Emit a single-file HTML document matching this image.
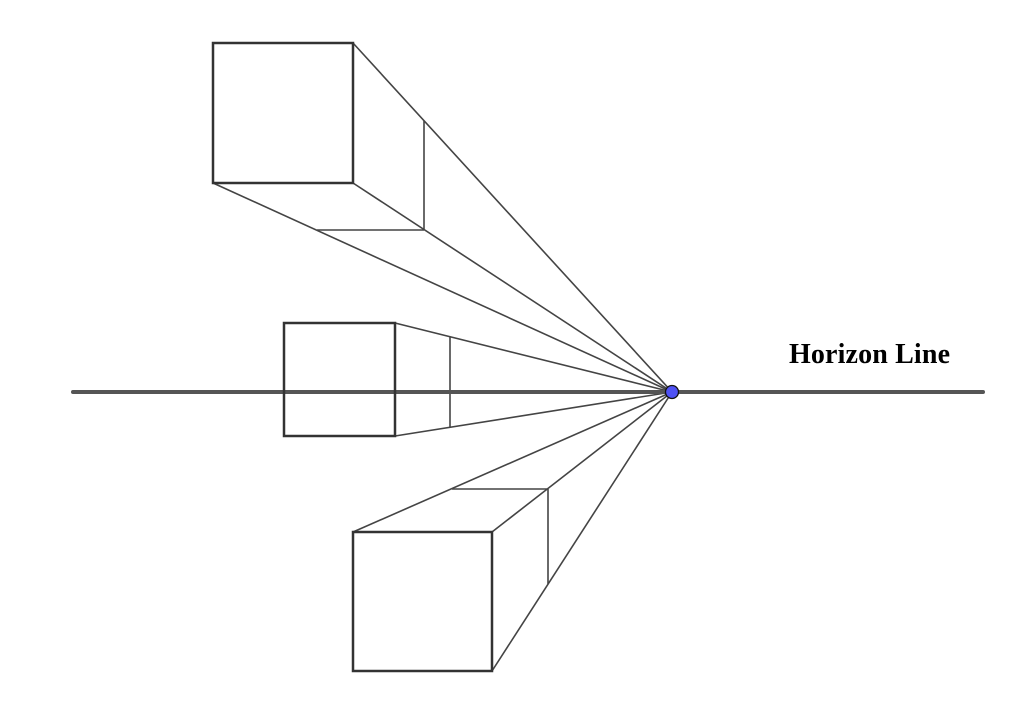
<!DOCTYPE html>
<html><head><meta charset="utf-8"><style>
html,body{margin:0;padding:0;background:#fff;}
svg{display:block;}
</style></head><body>
<svg width="1024" height="727" viewBox="0 0 1024 727" xmlns="http://www.w3.org/2000/svg">
<g stroke="#444" stroke-width="1.6" fill="none">
<line x1="353" y1="43" x2="672" y2="392"/>
<line x1="353" y1="183" x2="672" y2="392"/>
<line x1="213" y1="183" x2="672" y2="392"/>
<line x1="424" y1="121" x2="424" y2="230"/>
<line x1="317" y1="230" x2="424" y2="230"/>
<line x1="395" y1="323" x2="672" y2="392"/>
<line x1="395" y1="436" x2="672" y2="392"/>
<line x1="450" y1="337" x2="450" y2="427"/>
<line x1="353" y1="532" x2="672" y2="392"/>
<line x1="492" y1="532" x2="672" y2="392"/>
<line x1="492" y1="671" x2="672" y2="392"/>
<line x1="548" y1="489" x2="548" y2="584"/>
<line x1="452" y1="489" x2="548" y2="489"/>
</g>
<line x1="73" y1="392" x2="983" y2="392" stroke="#555" stroke-width="4" stroke-linecap="round"/>
<g stroke="#333" stroke-width="2.5" fill="none">
<rect x="213" y="43" width="140" height="140"/>
<rect x="284" y="323" width="111" height="113"/>
<rect x="353" y="532" width="139" height="139"/>
</g>
<circle cx="672" cy="392" r="6.5" fill="#4f52f5" stroke="#111" stroke-width="1.3"/>
<text x="789" y="363" font-family="Liberation Serif, serif" font-weight="bold" font-size="28" textLength="161" fill="#000">Horizon Line</text>
</svg>
</body></html>
